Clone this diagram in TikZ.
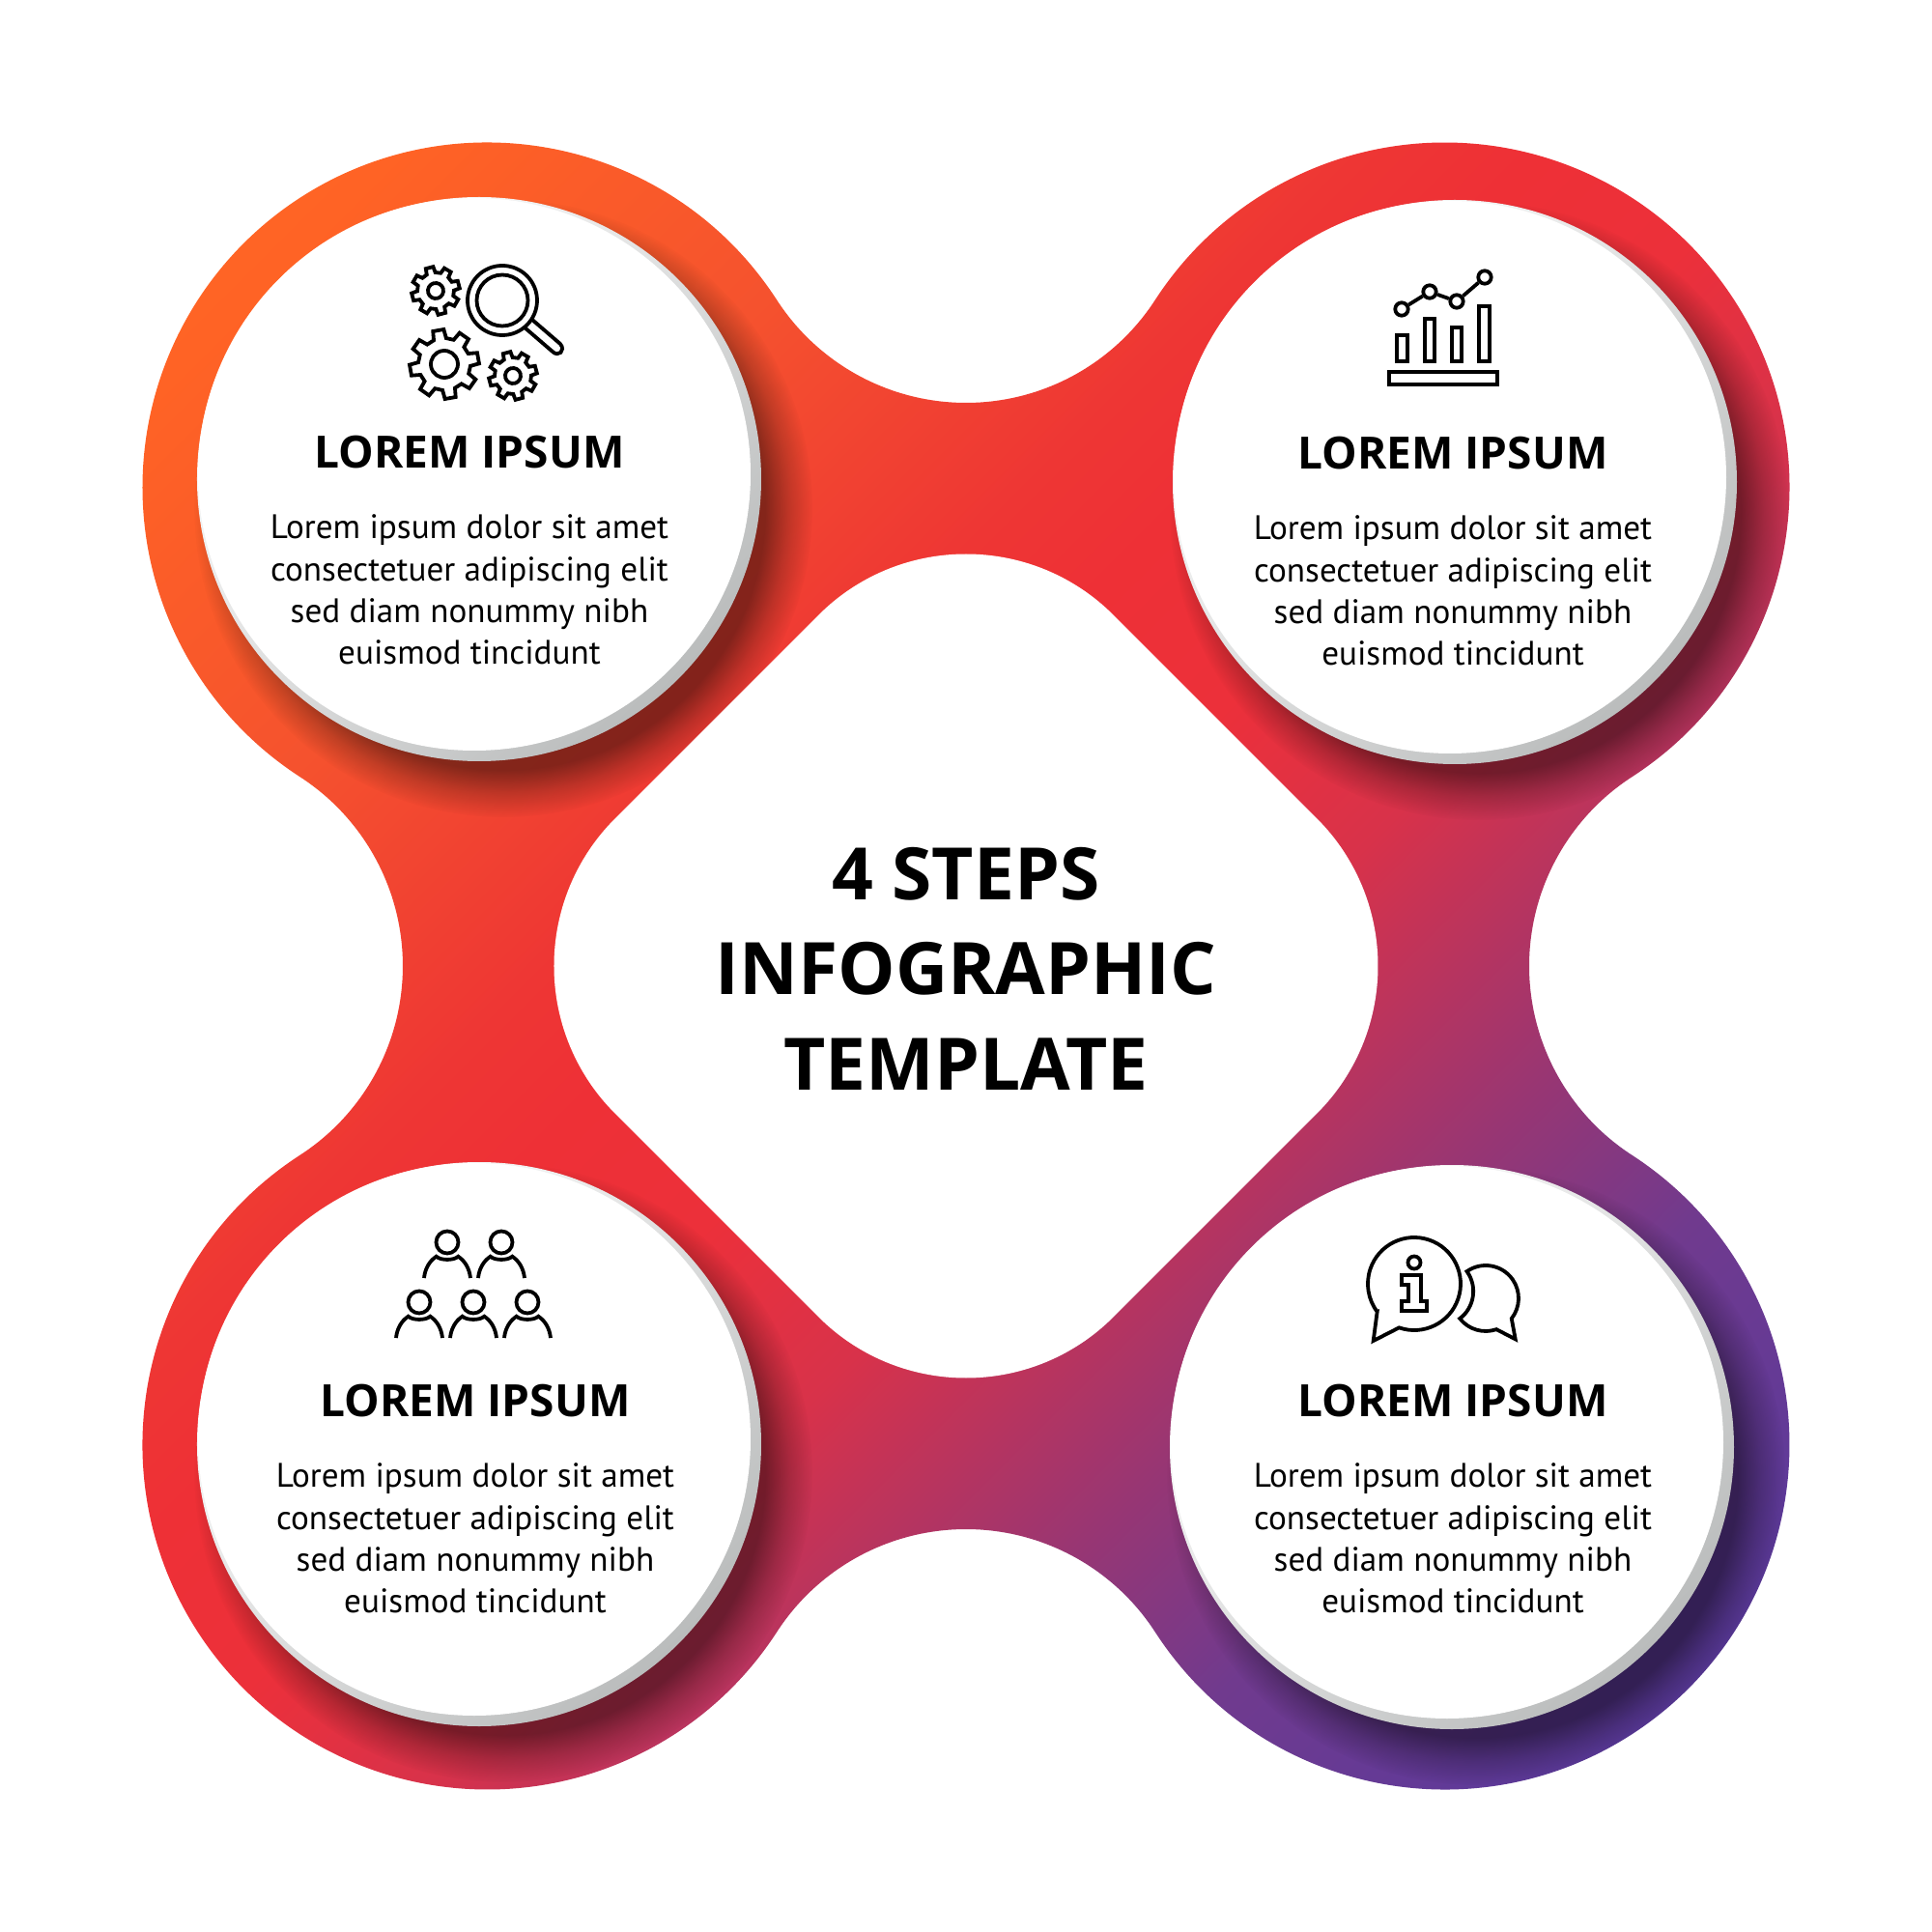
\documentclass[tikz,border=0pt]{standalone}
\usepackage{fontspec}
\setmainfont{PT Sans}
\newfontfamily\headfont{Open Sans}
\usepackage{xcolor}
\usetikzlibrary{positioning,fadings}
\pgfdeclarehorizontalshading{netshade}{100bp}{
  color(0bp)=(rgb,255:red,255;green,106;blue,34);
  color(14.65bp)=(rgb,255:red,255;green,106;blue,34);
  color(21.7bp)=(rgb,255:red,255;green,99;blue,37);
  color(32.3bp)=(rgb,255:red,245;green,82;blue,46);
  color(41.5bp)=(rgb,255:red,238;green,54;blue,52);
  color(45bp)=(rgb,255:red,238;green,48;blue,54);
  color(50bp)=(rgb,255:red,236;green,48;blue,58);
  color(55.7bp)=(rgb,255:red,216;green,50;blue,74);
  color(64.1bp)=(rgb,255:red,152;green,54;blue,115);
  color(70bp)=(rgb,255:red,112;green,58;blue,142);
  color(79.7bp)=(rgb,255:red,90;green,58;blue,156);
  color(100bp)=(rgb,255:red,85;green,58;blue,158)}
\pgfdeclareradialshading{softshade}{\pgfpointorigin}{
  color(0bp)=(transparent!0);
  color(21.1bp)=(transparent!0);
  color(23bp)=(transparent!55);
  color(25bp)=(transparent!100);
  color(50bp)=(transparent!100)}
\pgfdeclarefading{softdisc}{\pgfuseshading{softshade}}
\definecolor{rimgrey}{HTML}{BABCBC}
\newcommand{\netpath}{
  ([shift={(-4.955,4.955)}]32.92:3.57)
  arc[start angle=32.92,end angle=237.08,radius=3.57]
  arc[start angle=57.08,end angle=-57.08,radius=2.333]
  arc[start angle=122.92,end angle=327.08,radius=3.57]
  arc[start angle=147.08,end angle=32.92,radius=2.333]
  arc[start angle=212.92,end angle=417.08,radius=3.57]
  arc[start angle=237.08,end angle=122.92,radius=2.333]
  arc[start angle=-57.08,end angle=147.08,radius=3.57]
  arc[start angle=-32.92,end angle=-147.08,radius=2.333] -- cycle}
\tikzset{
heading/.style={
  font=\headfont\fontsize{13.1}{16}\bfseries\selectfont,
  align=center
  },
bodytext/.style={
  font=\fontsize{10}{12.35}\selectfont,
  align=center
  },
titletext/.style={
  font=\headfont\fontsize{21.3}{28}\bfseries\selectfont,
  align=center
  },
iconline/.style={draw=black,line width=0.038cm},
dot/.style={circle,draw=black,line width=0.038cm,minimum size=0.134cm,inner sep=0pt},
pics/gear/.style n args={3}{code={
  \draw[iconline] (-9:#1) \foreach \k in {0,...,7} {
    -- (\k*45-9:#1) -- (\k*45+9:#1) -- (\k*45+14:#2) -- (\k*45+31:#2)} -- cycle;
  \draw[iconline] (0,0) circle[radius=#3];
}},
pics/person/.style={code={
  \draw[iconline] (0,0) circle[radius=0.115];
  \draw[iconline] (-0.24,-0.37) .. controls (-0.23,-0.27) and (-0.18,-0.19) .. (-0.113,-0.147)
    .. controls (-0.07,-0.19) and (0.07,-0.19) .. (0.113,-0.147)
    .. controls (0.18,-0.19) and (0.23,-0.27) .. (0.24,-0.37);
}}
}
\begin{document}
\begin{tikzpicture}
\useasboundingbox (-10,-10) rectangle (10,10);
% ribbon
\shade[shading=netshade,shading angle=-45] \netpath;
\begin{scope}
\clip \netpath;
\foreach \cx/\cy in {-5.04/5.04,5.06/5.01,-5.04/-4.95,5.03/-4.98}
  \fill[black,opacity=0.45,path fading=softdisc] (\cx+0.25,\cy-0.30) circle[radius=3.2];
\end{scope}
% middle hole
\fill[white] ([shift={(0,2.105)}]135:2.16) arc[start angle=135,end angle=45,radius=2.16]
  -- ([shift={(2.105,0)}]45:2.16) arc[start angle=45,end angle=-45,radius=2.16]
  -- ([shift={(0,-2.105)}]-45:2.16) arc[start angle=-45,end angle=-135,radius=2.16]
  -- ([shift={(-2.105,0)}]225:2.16) arc[start angle=225,end angle=135,radius=2.16] -- cycle;
% discs
\foreach \cx/\cy in {-5.04/5.04,5.06/5.01,-5.04/-4.95,5.03/-4.98} {
  \shade[top color=white,bottom color=rimgrey,shading angle=45] (\cx,\cy) circle[radius=2.92];
  \fill[white] (\cx-0.05,\cy+0.05) circle[radius=2.86];
}
\node[titletext](title) at (0,-0.025){4 STEPS\\INFOGRAPHIC\\TEMPLATE};
\node[heading](headtl) at (-5.14,5.32){LOREM IPSUM};
\node[bodytext, below=0.23cm of headtl](bodytl){Lorem ipsum dolor sit amet\\consectetuer adipiscing elit\\sed diam nonummy nibh\\euismod tincidunt};
\node[heading](headtr) at (5.04,5.31){LOREM IPSUM};
\node[bodytext, below=0.23cm of headtr](bodytr){Lorem ipsum dolor sit amet\\consectetuer adipiscing elit\\sed diam nonummy nibh\\euismod tincidunt};
\node[heading](headbl) at (-5.08,-4.50){LOREM IPSUM};
\node[bodytext, below=0.23cm of headbl](bodybl){Lorem ipsum dolor sit amet\\consectetuer adipiscing elit\\sed diam nonummy nibh\\euismod tincidunt};
\node[heading](headbr) at (5.04,-4.50){LOREM IPSUM};
\node[bodytext, below=0.23cm of headbr](bodybr){Lorem ipsum dolor sit amet\\consectetuer adipiscing elit\\sed diam nonummy nibh\\euismod tincidunt};
% gears and lens
\pic[rotate=15] at (-5.49,6.99) {gear={0.25}{0.19}{0.08}};
\pic[rotate=10] at (-5.40,6.23) {gear={0.36}{0.27}{0.14}};
\pic[rotate=15] at (-4.69,6.11) {gear={0.25}{0.19}{0.08}};
\begin{scope}[shift={(-4.80,6.89)}]
\draw[iconline] (0,0) circle[radius=0.36];
\draw[iconline] (0,0) circle[radius=0.265];
\draw[iconline] (0.31,-0.20) -- (0.60,-0.45) .. controls (0.66,-0.52) and (0.58,-0.59) .. (0.52,-0.53) -- (0.23,-0.28);
\end{scope}
% chart
\draw[iconline] (4.38,6.02) rectangle (5.50,6.15);
\draw[iconline] (4.46,6.26) rectangle (4.57,6.53);
\draw[iconline] (4.75,6.26) rectangle (4.85,6.70);
\draw[iconline] (5.03,6.26) rectangle (5.13,6.61);
\draw[iconline] (5.31,6.26) rectangle (5.42,6.83);
\node[dot](p1) at (4.51,6.80){};
\node[dot](p2) at (4.80,6.98){};
\node[dot](p3) at (5.08,6.88){};
\node[dot](p4) at (5.37,7.13){};
\draw[iconline] (p1) -- (p2);
\draw[iconline] (p2) -- (p3);
\draw[iconline] (p3) -- (p4);
% people
\foreach \px/\py in {-5.37/-2.86,-4.81/-2.86,-5.66/-3.48,-5.10/-3.48,-4.54/-3.48}
  \pic at (\px,\py) {person};
% bubbles
\begin{scope}[shift={(4.64,-3.29)}]
\draw[iconline] (217:0.48) -- (-0.423,-0.59) -- (251:0.48) arc[start angle=251,end angle=577,radius=0.48] -- cycle;
\draw[iconline] (0,0.22) circle[radius=0.065];
\draw[iconline] (-0.13,0.087) -- (0.07,0.087) -- (0.07,-0.18) -- (0.133,-0.18) -- (0.133,-0.283) -- (-0.13,-0.283) -- (-0.13,-0.18) -- (-0.057,-0.18) -- (-0.057,-0.013) -- (-0.13,-0.013) -- cycle;
\end{scope}
\begin{scope}[shift={(5.38,-3.44)}]
\draw[iconline] (125:0.34) arc[start angle=125,end angle=-38,radius=0.34] -- (0.307,-0.423) -- (-71:0.34) arc[start angle=-71,end angle=-142,radius=0.34]
  .. controls (-0.12,-0.10) and (-0.08,0.12) .. (125:0.34) -- cycle;
\end{scope}
\end{tikzpicture}
\end{document}
